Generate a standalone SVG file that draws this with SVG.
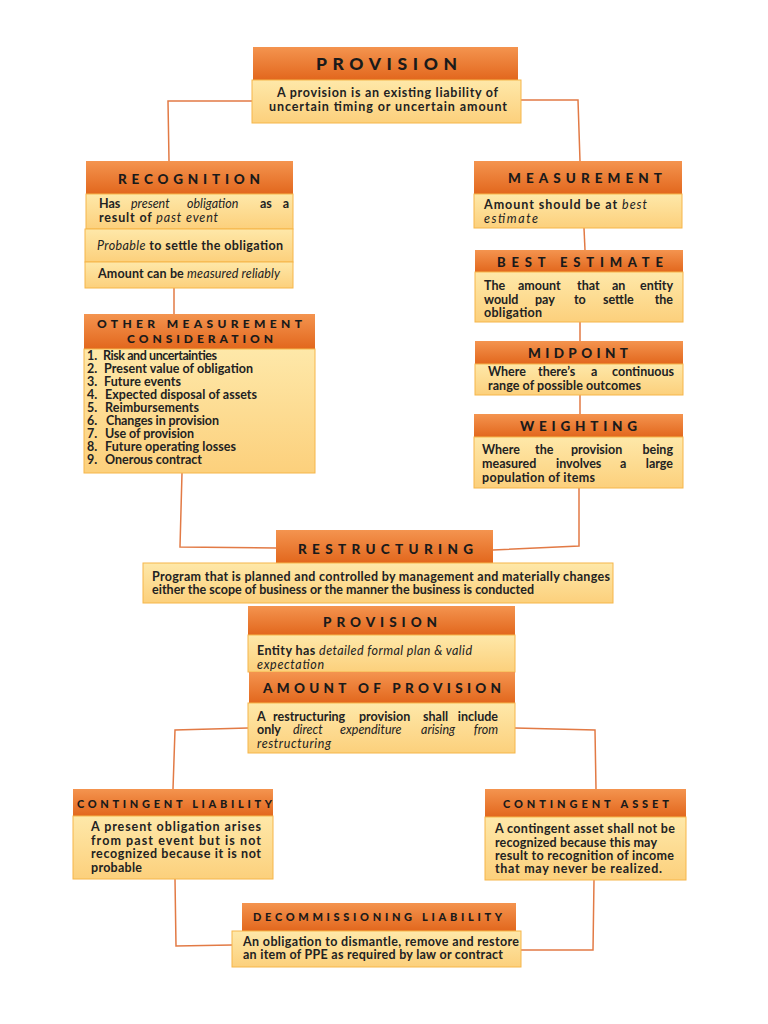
<svg xmlns="http://www.w3.org/2000/svg" width="768" height="1024" viewBox="0 0 768 1024">
<defs>
<linearGradient id="hg" x1="0" y1="0" x2="0" y2="1">
<stop offset="0" stop-color="#f4944f"/>
<stop offset="1" stop-color="#e2671d"/>
</linearGradient>
<linearGradient id="bg" x1="0" y1="0" x2="0" y2="1">
<stop offset="0" stop-color="#fee8a9"/>
<stop offset="1" stop-color="#fcd07c"/>
</linearGradient>
<style>
.h{fill:url(#hg);}
.b{fill:url(#bg);stroke:#f6b64a;stroke-width:1;}
.ht{font-family:Lato,"Liberation Sans",sans-serif;font-weight:900;fill:#1a1a1a;}
.t{font-family:Lato,"Liberation Sans",sans-serif;font-weight:bold;font-size:12.5px;fill:#222;}
.i{font-style:italic;font-weight:normal;}
.e{text-anchor:end;}
.c{fill:none;stroke:#e27a45;stroke-width:1.5;}
</style>
</defs>
<rect width="768" height="1024" fill="#ffffff"/>
<g id="connectors">
<polyline class="c" points="252,101 168,101 169,161"/>
<polyline class="c" points="521,100 578,100 580,161"/>
<line class="c" x1="174" y1="288" x2="174" y2="314"/>
<line class="c" x1="584" y1="228" x2="585" y2="250"/>
<line class="c" x1="580" y1="322" x2="580" y2="341"/>
<line class="c" x1="580" y1="395" x2="580" y2="414"/>
<polyline class="c" points="182,473 180,547 276,548"/>
<polyline class="c" points="579,488 579,546 493,550"/>
<polyline class="c" points="248,728 175,730 173,789"/>
<polyline class="c" points="515,728 595,730 596,789"/>
<polyline class="c" points="175,879 176,946 232,945"/>
<polyline class="c" points="594,880 593,950 521,950"/>
</g>
<g id="provision">
<rect class="h" x="253" y="47" width="265" height="33"/>
<rect class="b" x="252" y="80" width="269" height="43"/>
<text class="ht" x="316" y="69.5" font-size="17.5" textLength="141" lengthAdjust="spacing">PROVISION</text>
<text class="t" x="277" y="96.5" font-size="13.5" textLength="221" lengthAdjust="spacing">A provision is an existing liability of</text>
<text class="t" x="269" y="110.5" font-size="13.5" textLength="238" lengthAdjust="spacing">uncertain timing or uncertain amount</text>
</g>
<g id="recognition">
<rect class="h" x="86" y="161" width="207" height="33"/>
<rect class="b" x="86" y="194" width="207" height="35"/>
<rect class="b" x="85" y="229" width="208" height="33"/>
<rect class="b" x="85" y="262" width="208" height="26"/>
<text class="ht" x="118" y="184" font-size="13.5" textLength="142" lengthAdjust="spacing">RECOGNITION</text>
<text class="t" x="99" y="207.5" font-size="13">Has</text>
<text class="t i" x="131" y="207.5" font-size="13">present</text>
<text class="t i" x="187" y="207.5" font-size="13">obligation</text>
<text class="t" x="260" y="207.5" font-size="13">as</text>
<text class="t e" x="289" y="207.5" font-size="13">a</text>
<text class="t" x="99" y="221.5" font-size="13" textLength="119" lengthAdjust="spacing">result of <tspan class="i">past event</tspan></text>
<text class="t" x="97" y="250" font-size="13" textLength="186" lengthAdjust="spacing"><tspan class="i">Probable</tspan> to settle the obligation</text>
<text class="t" x="98" y="278" font-size="11.8" textLength="182" lengthAdjust="spacing">Amount can be <tspan class="i">measured reliably</tspan></text>
</g>
<g id="measurement">
<rect class="h" x="474" y="161" width="208" height="33"/>
<rect class="b" x="474" y="194" width="208" height="34"/>
<text class="ht" x="508" y="183" font-size="13.5" textLength="154" lengthAdjust="spacing">MEASUREMENT</text>
<text class="t" x="484" y="208.5" font-size="13.5" textLength="163" lengthAdjust="spacing">Amount should be at <tspan class="i">best</tspan></text>
<text class="t i" x="484" y="222.5" font-size="13.5" textLength="54" lengthAdjust="spacing">estimate</text>
</g>
<g id="best-estimate">
<rect class="h" x="475" y="250" width="208" height="22"/>
<rect class="b" x="475" y="272" width="208" height="50"/>
<text class="ht" x="497" y="267" font-size="13" textLength="166" lengthAdjust="spacing">BEST  ESTIMATE</text>
<text class="t" x="484" y="289.5">The</text>
<text class="t" x="518" y="289.5">amount</text>
<text class="t" x="577" y="289.5">that</text>
<text class="t" x="612" y="289.5">an</text>
<text class="t e" x="673" y="289.5">entity</text>
<text class="t" x="484" y="303.5">would</text>
<text class="t" x="535" y="303.5">pay</text>
<text class="t" x="574" y="303.5">to</text>
<text class="t" x="603" y="303.5">settle</text>
<text class="t e" x="673" y="303.5">the</text>
<text class="t" x="484" y="316.5" textLength="58" lengthAdjust="spacing">obligation</text>
</g>
<g id="other-measurement">
<rect class="h" x="84" y="314" width="231" height="35"/>
<rect class="b" x="84" y="349" width="231" height="124"/>
<text class="ht" x="97" y="328" font-size="12" textLength="205" lengthAdjust="spacing">OTHER  MEASUREMENT</text>
<text class="ht" x="127" y="343" font-size="12" textLength="146" lengthAdjust="spacing">CONSIDERATION</text>
<text class="t" x="87" y="360" font-size="10.8">1.</text><text class="t" x="103" y="360" font-size="10.8" textLength="114" lengthAdjust="spacing">Risk and uncertainties</text>
<text class="t" x="87" y="373" font-size="10.8">2.</text><text class="t" x="104" y="373" font-size="10.8" textLength="149" lengthAdjust="spacing">Present value of obligation</text>
<text class="t" x="87" y="386" font-size="10.8">3.</text><text class="t" x="104" y="386" font-size="10.8" textLength="77" lengthAdjust="spacing">Future events</text>
<text class="t" x="87" y="399" font-size="10.8">4.</text><text class="t" x="105" y="399" font-size="10.8" textLength="152" lengthAdjust="spacing">Expected disposal of assets</text>
<text class="t" x="87" y="412" font-size="10.8">5.</text><text class="t" x="105" y="412" font-size="10.8" textLength="94" lengthAdjust="spacing">Reimbursements</text>
<text class="t" x="87" y="425" font-size="10.8">6.</text><text class="t" x="106" y="425" font-size="10.8" textLength="113" lengthAdjust="spacing">Changes in provision</text>
<text class="t" x="87" y="438" font-size="10.8">7.</text><text class="t" x="105" y="438" font-size="10.8" textLength="89" lengthAdjust="spacing">Use of provision</text>
<text class="t" x="87" y="451" font-size="10.8">8.</text><text class="t" x="105" y="451" font-size="10.8" textLength="131" lengthAdjust="spacing">Future operating losses</text>
<text class="t" x="87" y="464" font-size="10.8">9.</text><text class="t" x="105" y="464" font-size="10.8" textLength="97" lengthAdjust="spacing">Onerous contract</text>
</g>
<g id="midpoint">
<rect class="h" x="475" y="341" width="208" height="23"/>
<rect class="b" x="475" y="364" width="208" height="31"/>
<text class="ht" x="528" y="358" font-size="13.5" textLength="100" lengthAdjust="spacing">MIDPOINT</text>
<text class="t" x="488" y="375.5" font-size="12">Where</text>
<text class="t" x="538" y="375.5" font-size="12">there’s</text>
<text class="t" x="591" y="375.5" font-size="12">a</text>
<text class="t e" x="674" y="375.5" font-size="12">continuous</text>
<text class="t" x="488" y="389.5" font-size="12" textLength="153" lengthAdjust="spacing">range of possible outcomes</text>
</g>
<g id="weighting">
<rect class="h" x="474" y="414" width="209" height="23"/>
<rect class="b" x="474" y="437" width="209" height="51"/>
<text class="ht" x="520" y="431" font-size="13.5" textLength="117" lengthAdjust="spacing">WEIGHTING</text>
<text class="t" x="482" y="453.5">Where</text>
<text class="t" x="535" y="453.5">the</text>
<text class="t" x="571" y="453.5">provision</text>
<text class="t e" x="673" y="453.5">being</text>
<text class="t" x="482" y="467.5">measured</text>
<text class="t" x="556" y="467.5">involves</text>
<text class="t" x="620" y="467.5">a</text>
<text class="t e" x="673" y="467.5">large</text>
<text class="t" x="482" y="481.5" textLength="113" lengthAdjust="spacing">population of items</text>
</g>
<g id="restructuring">
<rect class="h" x="276" y="530" width="217" height="33"/>
<rect class="b" x="143" y="563" width="470" height="40"/>
<text class="ht" x="298" y="554" font-size="13.5" textLength="175" lengthAdjust="spacing">RESTRUCTURING</text>
<text class="t" x="152" y="580.5" font-size="11" textLength="458" lengthAdjust="spacing">Program that is planned and controlled by management and materially changes</text>
<text class="t" x="152" y="594" font-size="11" textLength="382" lengthAdjust="spacing">either the scope of business or the manner the business is conducted</text>
</g>
<g id="provision-2">
<rect class="h" x="248" y="606" width="267" height="29"/>
<rect class="b" x="248" y="635" width="267" height="37"/>
<text class="ht" x="323" y="627" font-size="13.5" textLength="114" lengthAdjust="spacing">PROVISION</text>
<text class="t" x="257" y="655" font-size="13" textLength="215" lengthAdjust="spacing">Entity has <tspan class="i">detailed formal plan &amp; valid</tspan></text>
<text class="t i" x="257" y="668.5" font-size="13" textLength="67" lengthAdjust="spacing">expectation</text>
</g>
<g id="amount-of-provision">
<rect class="h" x="249" y="672" width="266" height="31"/>
<rect class="b" x="248" y="703" width="267" height="50"/>
<text class="ht" x="263" y="693" font-size="13.5" textLength="238" lengthAdjust="spacing">AMOUNT  OF  PROVISION</text>
<text class="t" x="257" y="720.5" font-size="13">A</text>
<text class="t" x="273" y="720.5" font-size="13">restructuring</text>
<text class="t" x="359" y="720.5" font-size="13">provision</text>
<text class="t" x="423" y="720.5" font-size="13">shall</text>
<text class="t e" x="498" y="720.5" font-size="13">include</text>
<text class="t" x="257" y="733.5" font-size="13">only</text>
<text class="t i" x="293" y="733.5" font-size="13">direct</text>
<text class="t i" x="340" y="733.5" font-size="13">expenditure</text>
<text class="t i" x="421" y="733.5" font-size="13">arising</text>
<text class="t i e" x="498" y="733.5" font-size="13">from</text>
<text class="t i" x="257" y="747.5" font-size="13" textLength="74" lengthAdjust="spacing">restructuring</text>
</g>
<g id="contingent-liability">
<rect class="h" x="73" y="789" width="200" height="27"/>
<rect class="b" x="73" y="816" width="200" height="63"/>
<text class="ht" x="77" y="808" font-size="11" textLength="195" lengthAdjust="spacing">CONTINGENT  LIABILITY</text>
<text class="t" x="91" y="830.5" font-size="12" textLength="170" lengthAdjust="spacing">A present obligation arises</text>
<text class="t" x="91" y="844.5" font-size="12" textLength="170" lengthAdjust="spacing">from past event but is not</text>
<text class="t" x="91" y="857.5" font-size="12" textLength="170" lengthAdjust="spacing">recognized because it is not</text>
<text class="t" x="91" y="871.5" font-size="12" textLength="51" lengthAdjust="spacing">probable</text>
</g>
<g id="contingent-asset">
<rect class="h" x="485" y="789" width="201" height="28"/>
<rect class="b" x="485" y="817" width="201" height="63"/>
<text class="ht" x="503" y="808" font-size="11" textLength="166" lengthAdjust="spacing">CONTINGENT  ASSET</text>
<text class="t" x="495" y="832.5" font-size="12" textLength="180" lengthAdjust="spacing">A contingent asset shall not be</text>
<text class="t" x="495" y="846.5" font-size="12" textLength="162" lengthAdjust="spacing">recognized because this may</text>
<text class="t" x="495" y="859.5" font-size="12" textLength="179" lengthAdjust="spacing">result to recognition of income</text>
<text class="t" x="495" y="872.5" font-size="12" textLength="167" lengthAdjust="spacing">that may never be realized.</text>
</g>
<g id="decommissioning-liability">
<rect class="h" x="242" y="903" width="274" height="28"/>
<rect class="b" x="232" y="931" width="289" height="36"/>
<text class="ht" x="253" y="921" font-size="11" textLength="249" lengthAdjust="spacing">DECOMMISSIONING  LIABILITY</text>
<text class="t" x="243" y="945.5" font-size="11.5" textLength="276" lengthAdjust="spacing">An obligation to dismantle, remove and restore</text>
<text class="t" x="243" y="959" font-size="11.5" textLength="260" lengthAdjust="spacing">an item  of PPE as required by law or contract</text>
</g>
</svg>
